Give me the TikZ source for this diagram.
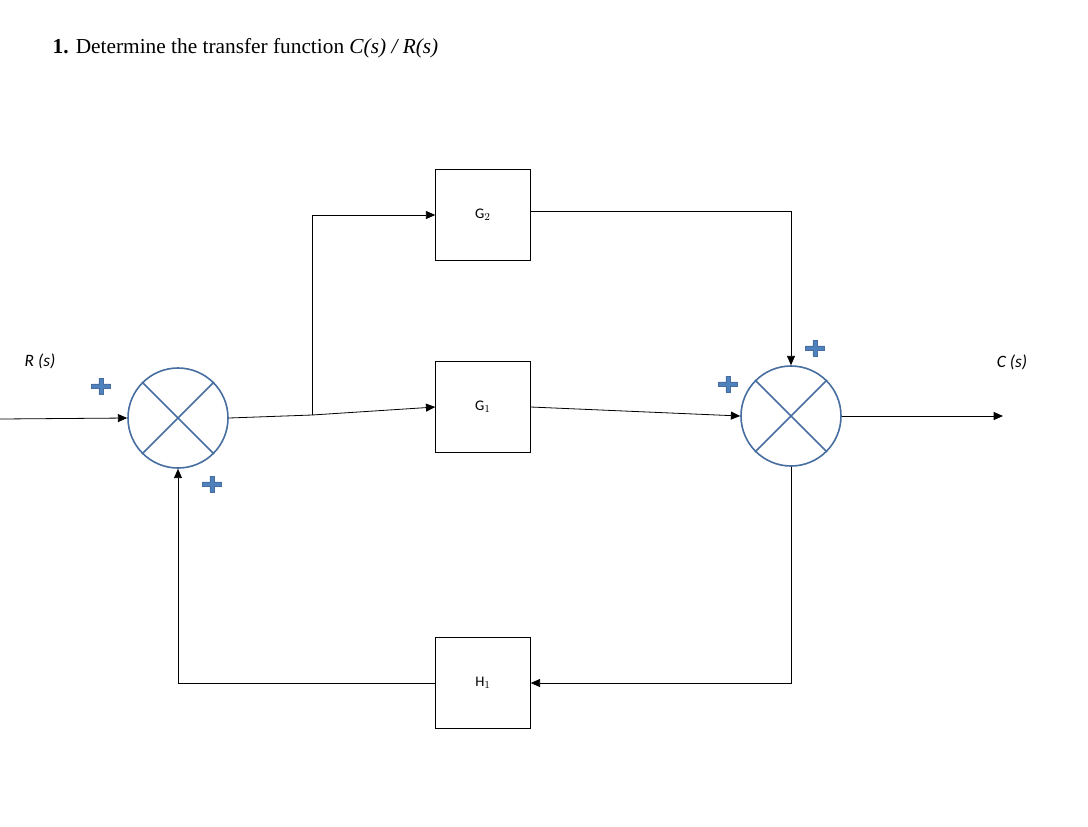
\documentclass[tikz,border=0pt]{standalone}
\usepackage{fontspec}
\setmainfont{Liberation Serif}
\newfontfamily\calfont{Carlito}
\usetikzlibrary{arrows.meta}
\definecolor{sjblue}{RGB}{71,110,160}
\definecolor{plusblue}{RGB}{79,129,189}
\begin{document}
\begin{tikzpicture}[x=0.75pt,y=-0.75pt,
  blk/.style={draw,line width=0.6pt,minimum width=71pt,minimum height=68pt,inner sep=0pt,font=\calfont\fontsize{11}{13}\selectfont},
  sj/.style={circle,draw=sjblue,line width=1.2pt,minimum size=75pt,inner sep=0pt},
  sig/.style={line width=0.6pt,-{Triangle[length=7pt,width=6pt]}},
  ln/.style={line width=0.6pt},
  lbl/.style={font=\calfont\itshape\fontsize{13}{15}\selectfont}]
\useasboundingbox (0,0) rectangle (1088,826);
\node[anchor=base west,font=\fontsize{16}{19}\selectfont] (title) at (48,53) {\textbf{1.} Determine the transfer function \textit{C(s) / R(s)}};
\node[blk] (g2) at (483,215) {G$_2$};
\node[blk] (g1) at (483,407) {G$_1$};
\node[blk] (h1) at (483,683) {H$_1$};
\node[sj] (s1) at (178,418) {};
\node[sj] (s2) at (791,416) {};
\foreach \n in {s1,s2}{
  \draw[sjblue,line width=1.2pt] (\n.45) -- (\n.225) (\n.135) -- (\n.315);}
\coordinate (in) at (0,419);
\coordinate (br) at (312,415);
\coordinate (out) at (1003,416);
\draw[sig] (in) -- (s1.west);
\draw[ln] (s1.east) -- (br);
\draw[sig] (br) -- (g1.west);
\draw[sig] (br) |- (g2.west);
\draw[sig] (g2.east |- 0,211) -| (s2.north);
\draw[sig] (g1.east) -- (s2.west);
\draw[sig] (s2.east) -- (out);
\draw[sig] (s2.south) |- (h1.east);
\draw[sig] (h1.west) -| (s1.south);
\node[lbl] (r) at (40,361) {R (s)};
\node[lbl] (c) at (1012,362) {C (s)};
\foreach \x/\y [count=\i] in {101/386,212/484,728/384,815/348}{
  \node[inner sep=0pt] (p\i) at (\x,\y) {\tikz[x=1pt,y=1pt]{\filldraw[fill=plusblue,draw=sjblue,line width=0.4pt] (-7,-1.6) -- (-1.6,-1.6) -- (-1.6,-6) -- (1.6,-6) -- (1.6,-1.6) -- (7,-1.6) -- (7,1.6) -- (1.6,1.6) -- (1.6,6) -- (-1.6,6) -- (-1.6,1.6) -- (-7,1.6) -- cycle;}};}
\end{tikzpicture}
\end{document}
